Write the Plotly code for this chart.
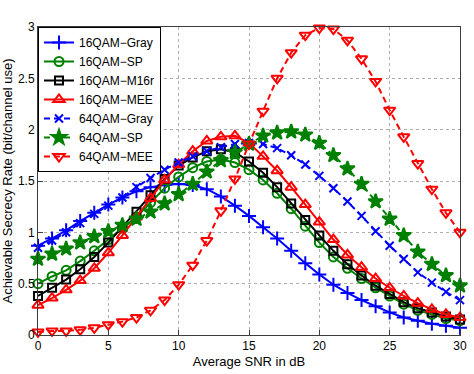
import plotly.graph_objects as go

snr_db = list(range(0, 31))

qam16_gray = [0.87, 0.94, 1.02, 1.11, 1.19, 1.27, 1.34, 1.40, 1.44, 1.46, 1.47, 1.46, 1.42, 1.35, 1.26, 1.16,
              1.05, 0.94, 0.82, 0.70, 0.59, 0.49, 0.41, 0.34, 0.28, 0.22, 0.17, 0.14, 0.11, 0.09, 0.07]
qam16_sp = [0.50, 0.57, 0.63, 0.72, 0.82, 0.93, 1.04, 1.15, 1.29, 1.43, 1.54, 1.63, 1.69, 1.71, 1.68, 1.61,
            1.51, 1.38, 1.23, 1.06, 0.90, 0.76, 0.65, 0.55, 0.46, 0.38, 0.30, 0.24, 0.20, 0.16, 0.14]
qam16_m16r = [0.38, 0.46, 0.54, 0.64, 0.76, 0.90, 1.05, 1.20, 1.36, 1.52, 1.65, 1.73, 1.79, 1.81, 1.78, 1.69,
              1.58, 1.44, 1.28, 1.12, 0.97, 0.82, 0.69, 0.58, 0.48, 0.40, 0.32, 0.26, 0.22, 0.18, 0.15]
qam16_mee = [0.29, 0.36, 0.44, 0.53, 0.65, 0.80, 0.97, 1.15, 1.33, 1.51, 1.66, 1.79, 1.89, 1.93, 1.94, 1.87,
             1.74, 1.60, 1.44, 1.27, 1.10, 0.93, 0.78, 0.66, 0.55, 0.46, 0.38, 0.31, 0.25, 0.20, 0.17]
qam64_gray = [0.85, 0.92, 1.00, 1.09, 1.18, 1.26, 1.34, 1.44, 1.53, 1.61, 1.68, 1.74, 1.79, 1.83, 1.86, 1.87,
              1.86, 1.82, 1.75, 1.66, 1.55, 1.43, 1.30, 1.16, 1.01, 0.87, 0.74, 0.61, 0.51, 0.42, 0.34]
qam64_sp = [0.74, 0.79, 0.84, 0.90, 0.96, 1.01, 1.07, 1.13, 1.20, 1.28, 1.37, 1.47, 1.59, 1.70, 1.78, 1.86,
            1.94, 1.97, 1.98, 1.95, 1.87, 1.75, 1.62, 1.47, 1.30, 1.13, 0.97, 0.81, 0.69, 0.58, 0.48]
qam64_mee = [0.03, 0.04, 0.04, 0.05, 0.07, 0.10, 0.13, 0.17, 0.24, 0.34, 0.49, 0.68, 0.92, 1.21, 1.52, 1.86,
             2.18, 2.50, 2.75, 2.92, 2.99, 2.98, 2.87, 2.69, 2.47, 2.19, 1.93, 1.67, 1.42, 1.19, 1.00]

x_ticks = [0, 5, 10, 15, 20, 25, 30]
y_ticks = [0, 0.5, 1, 1.5, 2, 2.5, 3]
y_tick_labels = ["0", "0.5", "1", "1.5", "2", "2.5", "3"]

BLUE = "rgb(0,0,255)"
GREEN = "rgb(0,128,0)"
BLACK = "rgb(0,0,0)"
RED = "rgb(255,0,0)"
DASH = "6px,4px"

series = [
    ("16QAM\u2212Gray", qam16_gray, BLUE, "solid", "cross-thin-open", 10),
    ("16QAM\u2212SP", qam16_sp, GREEN, "solid", "circle-open", 9),
    ("16QAM\u2212M16r", qam16_m16r, BLACK, "solid", "square-open", 8),
    ("16QAM\u2212MEE", qam16_mee, RED, "solid", "triangle-up-open", 10),
    ("64QAM\u2212Gray", qam64_gray, BLUE, DASH, "x-thin-open", 8),
    ("64QAM\u2212SP", qam64_sp, GREEN, DASH, "star", 11),
    ("64QAM\u2212MEE", qam64_mee, RED, DASH, "triangle-down-open", 10),
]

fig = go.Figure()
for name, vals, color, dash, sym, size in series:
    fig.add_trace(go.Scatter(
        x=snr_db, y=vals, name=name, mode="lines+markers",
        line=dict(color=color, width=2, dash=dash),
        marker=dict(symbol=sym, size=size, color=color, line=dict(color=color, width=2)),
        cliponaxis=False,
    ))

axis_common = dict(
    showline=True, linecolor="rgb(60,60,60)", linewidth=1, mirror=True,
    ticks="inside", ticklen=5, tickcolor="rgb(60,60,60)",
    showgrid=True, gridcolor="rgb(175,175,175)", griddash="dot", gridwidth=1,
    zeroline=False,
    tickfont=dict(family="Liberation Sans, Arial, sans-serif", size=12, color="black"),
)

fig.update_layout(
    width=474, height=374,
    margin=dict(l=35, r=7, t=27, b=33),
    paper_bgcolor="white", plot_bgcolor="white",
    font=dict(family="Liberation Sans, Arial, sans-serif", size=12, color="black"),
    xaxis=dict(range=[0, 30], tickvals=x_ticks,
               title=dict(text="Average SNR in dB", standoff=4,
                          font=dict(size=13, color="black")),
               **axis_common),
    yaxis=dict(range=[0, 3], tickvals=y_ticks, ticktext=y_tick_labels,
               title=dict(text="Achievable Secrecy Rate (bit/channel use)", standoff=2,
                          font=dict(size=13, color="black")),
               **axis_common),
    legend=dict(x=0, y=1, xanchor="left", yanchor="top",
                bgcolor="white", bordercolor="black", borderwidth=1,
                font=dict(size=12, color="black"),
                tracegroupgap=0, itemwidth=30),
    showlegend=True,
)

fig.write_html("out.html", config={"displayModeBar": False},
               post_script="document.body.style.margin='0px';document.body.style.padding='0px';")
